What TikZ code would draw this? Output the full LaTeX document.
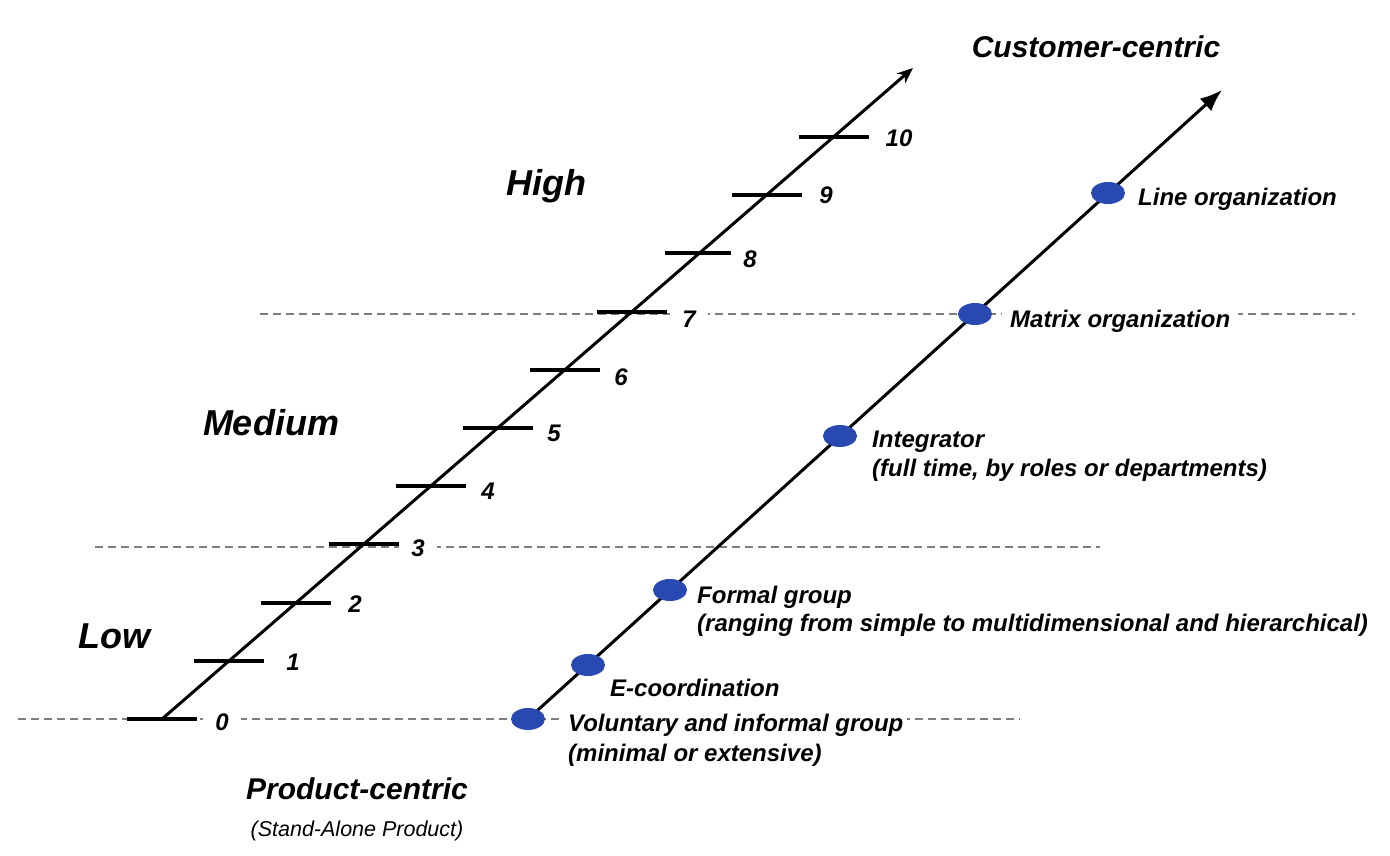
\documentclass[tikz,border=0pt]{standalone}
\usepackage{fontspec}
\setmainfont{Liberation Sans}
\usetikzlibrary{arrows.meta,shapes.geometric,calc}
\definecolor{dotblue}{RGB}{40,72,178}
\definecolor{dashgray}{RGB}{125,125,125}
\begin{document}
\begin{tikzpicture}[x=1pt,y=-1pt,
  lab/.style={font=\fontsize{24}{28}\selectfont\bfseries\itshape, inner sep=0pt, anchor=base west, fill=white},
  ticklab/.style={font=\fontsize{24}{28}\selectfont\bfseries\itshape, inner ysep=0pt, inner xsep=12pt, anchor=base, fill=white},
  big/.style={font=\fontsize{36}{40}\selectfont\bfseries\itshape, inner sep=0pt, anchor=base},
  mid/.style={font=\fontsize{30}{34}\selectfont\bfseries\itshape, inner sep=0pt, anchor=base},
  small/.style={font=\fontsize{21.5}{26}\selectfont\itshape, inner sep=0pt, anchor=base},
  dashline/.style={draw=dashgray, line width=2pt, dash pattern=on 8pt off 5pt},
  axis/.style={draw=black, line width=3pt},
  tickmark/.style={draw=black, line width=4pt},
  blob/.style={ellipse, minimum width=34pt, minimum height=22pt, inner sep=0pt, fill=dotblue, draw=none}]
\useasboundingbox (0,0) rectangle (1390,856);
\fill[white] (0,0) rectangle (1390,856);

% dashed level lines
\draw[dashline] (18,719) -- (1020,719);
\draw[dashline] (95,547) -- (1100,547);
\draw[dashline] (260,314) -- (1355,314);

% left scale axis
\foreach \k in {0,...,10} \coordinate (t\k) at ({162+67.2*\k},{719-58.2*\k});
\coordinate (ltip) at (913,68);
\draw[axis, -{Stealth[length=16pt,width=13pt]}] (t0) -- (ltip);
\foreach \k in {0,...,10} \draw[tickmark] ($(t\k)+(-35,0)$) -- ($(t\k)+(35,0)$);

\node[ticklab] (l0) at (222,730) {0};
\node[ticklab] (l1) at (293,670) {1};
\node[ticklab] (l2) at (355,612) {2};
\node[ticklab] (l3) at (418,556) {3};
\node[ticklab] (l4) at (488,499) {4};
\node[ticklab] (l5) at (554,441) {5};
\node[ticklab] (l6) at (621,385) {6};
\node[ticklab] (l7) at (689,327) {7};
\node[ticklab] (l8) at (750,267) {8};
\node[ticklab] (l9) at (826,204) {9};
\node[ticklab] (l10) at (899,147) {10};

% right axis with dots
\coordinate (c0) at (528,719);
\coordinate (c1) at (588,665);
\coordinate (c2) at (670,590);
\coordinate (c3) at (840,436);
\coordinate (c4) at (975,314);
\coordinate (c5) at (1108,193);
\coordinate (rtip) at (1222,90);
\draw[axis, -{Latex[length=22pt,width=17pt]}] (c0) -- (rtip);
\node[blob] (d0) at (c0) {};
\node[blob] (d1) at (c1) {};
\node[blob] (d2) at (c2) {};
\node[blob] (d3) at (c3) {};
\node[blob] (d4) at (c4) {};
\node[blob] (d5) at (c5) {};

% dot labels
\node[lab] (n5) at (1138,205) {Line organization};
\node[lab, inner xsep=8pt] (n4) at (1002,327) {Matrix organization};
\node[lab] (n3a) at (872,447) {Integrator};
\node[lab] (n3b) at (872,476) {(full time, by roles or departments)};
\node[lab] (n2a) at (697,603) {Formal group};
\node[lab] (n2b) at (697,631) {(ranging from simple to multidimensional and hierarchical)};
\node[lab] (n1) at (610,696) {E-coordination};
\node[lab, inner xsep=4pt] (n0a) at (564,731) {Voluntary and informal group};
\node[lab] (n0b) at (568,761) {(minimal or extensive)};

% level and pole labels
\node[mid] (cust) at (1096,58) {Customer-centric};
\node[big] (high) at (546,196) {High};
\node[big] (medium) at (271,435) {Medium};
\node[big] (low) at (114,648) {Low};
\node[mid] (prod) at (357,799) {Product-centric};
\node[small] (prodsub) at (357,836) {(Stand-Alone Product)};
\end{tikzpicture}
\end{document}
